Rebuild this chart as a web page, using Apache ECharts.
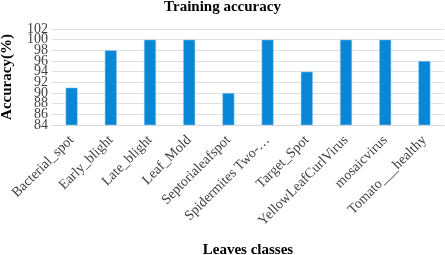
<!DOCTYPE html>
<html><head><meta charset="utf-8">
<script src="https://cdn.jsdelivr.net/npm/echarts@6/dist/echarts.min.js"></script>
<style>html,body{margin:0;padding:0;background:#fff}#c{width:445px;height:255px}</style>
</head><body><div id="c"></div>
<script>
const categories = ["Bacterial_spot","Early_blight","Late_blight","Leaf_Mold","Septorialeafspot","Spidermites Two-…","Target_Spot","YellowLeafCurlVirus","mosaicvirus","Tomato___healthy"];
const accuracy = [91, 98, 100, 100, 90, 100, 94, 100, 100, 96];
const yMin = 84, yMax = 102, yStep = 2;
const serif = "Liberation Serif, Times New Roman, serif";
const labelStyle = { margin: 4, fontFamily: serif, fontSize: 14, color: '#404040' };
const chart = echarts.init(document.getElementById('c'));
chart.setOption({
  animation: false,
  title: { text: 'Training accuracy', left: 'center', top: 0, padding: 0,
    textStyle: { fontFamily: serif, fontSize: 15, fontWeight: 'bold', color: '#000' } },
  grid: { left: 52, right: 1, top: 29, bottom: 130, outerBoundsMode: 'none', containLabel: false },
  xAxis: { type: 'category', data: categories,
    name: 'Leaves classes', nameLocation: 'middle', nameGap: 118, nameMoveOverlap: false,
    nameTextStyle: { fontFamily: serif, fontSize: 15, fontWeight: 'bold', color: '#000' },
    axisLine: { lineStyle: { color: '#d9d9d9' } }, axisTick: { show: false },
    axisLabel: { interval: 0, rotate: 45, margin: 13, fontFamily: serif, fontSize: 14, color: '#404040' } },
  yAxis: [{ type: 'value', min: yMin, max: yMax, interval: yStep, position: 'left',
    name: 'Accuracy(%)', nameLocation: 'middle', nameGap: 37, nameRotate: 90, nameMoveOverlap: false,
    nameTextStyle: { fontFamily: serif, fontSize: 15, fontWeight: 'bold', color: '#000' },
    axisLine: { show: false }, axisTick: { show: false },
    splitLine: { lineStyle: { color: '#e0e0e0' } },
    axisLabel: Object.assign({}, labelStyle, { showMinLabel: true, showMaxLabel: true,
      formatter: v => (v === yMin || v === yMax) ? String(v) : '' }) },
  { type: 'value', min: yMin, max: yMax, interval: yStep, position: 'left', offset: 0,
    axisLine: { show: false }, axisTick: { show: false }, splitLine: { show: false },
    axisLabel: Object.assign({}, labelStyle, { showMinLabel: false, showMaxLabel: false }) }],
  series: [{ type: 'bar', data: accuracy, barWidth: 12, yAxisIndex: 0,
    itemStyle: { color: '#0a86d6', borderColor: '#9fd0f0', borderWidth: 0.5 } }]
});
</script></body></html>
